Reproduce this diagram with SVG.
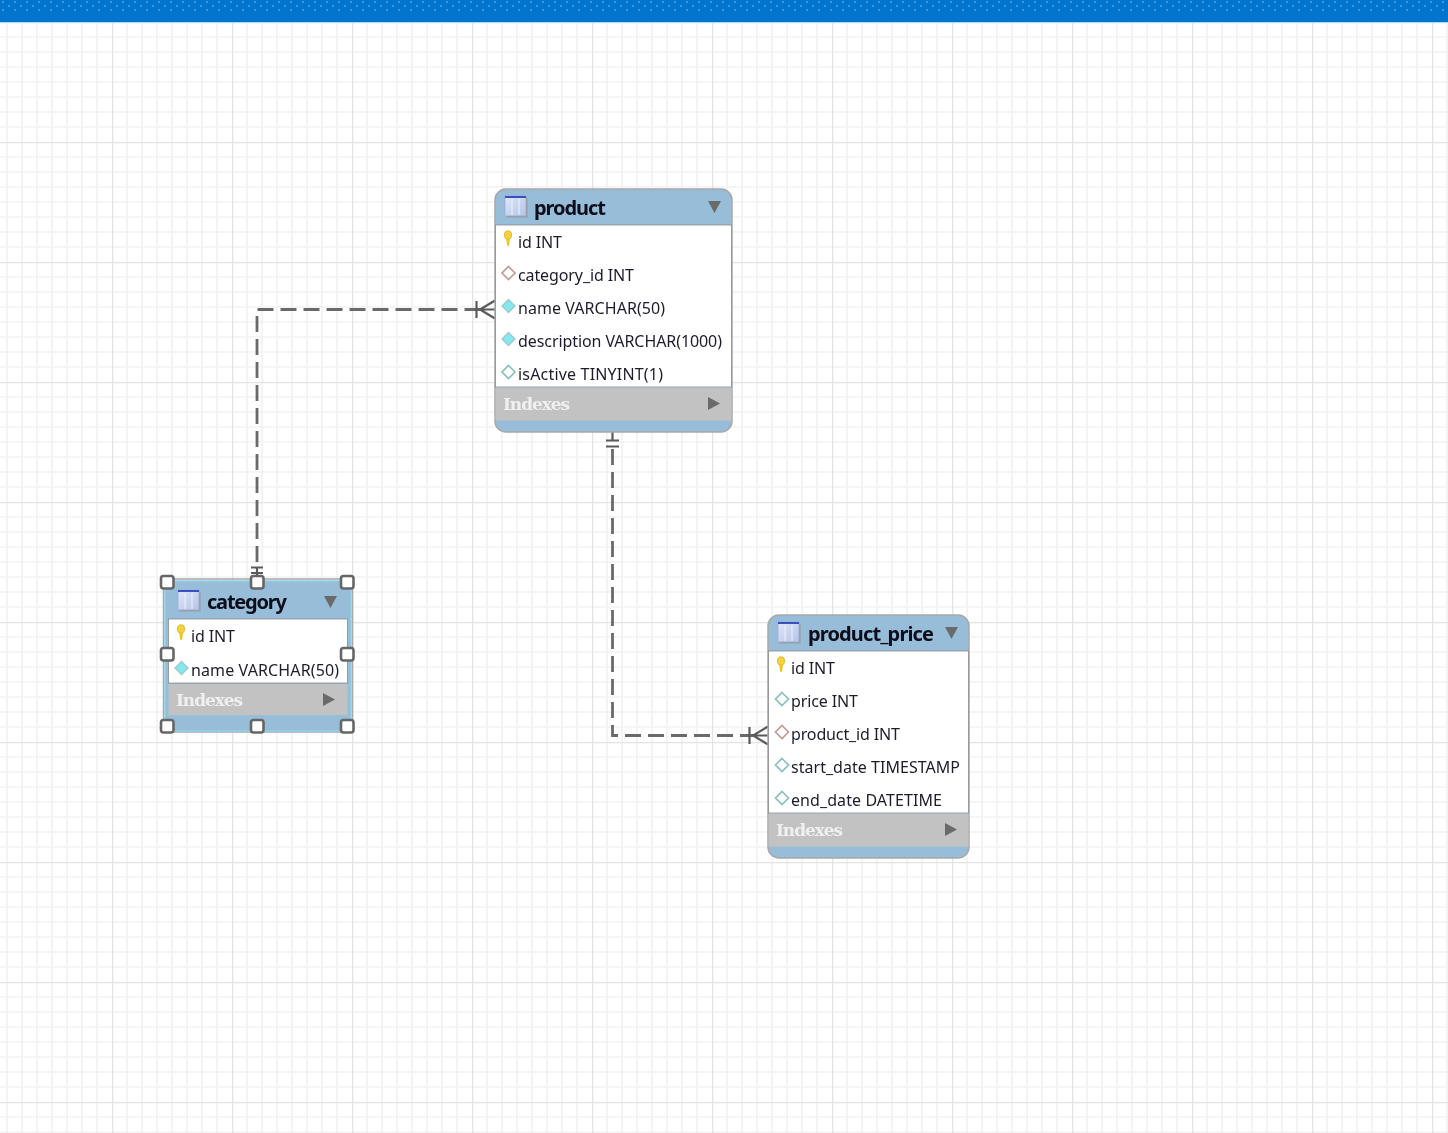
<svg xmlns="http://www.w3.org/2000/svg" width="1448" height="1133" viewBox="0 0 1448 1133">
<style>
text{font-family:"Noto Sans","DejaVu Sans",sans-serif;fill:#1c1c2c}
.t{font-size:20px;font-weight:700;fill:#10101c}
.r{font-size:16px}
.i{font-size:17px;font-weight:700;fill:#f0f0f0;font-family:"DejaVu Serif","Liberation Serif",serif}
.out{fill:#97bdd8;stroke:#a8a8a8;stroke-width:1.5}
.rows{fill:#fff;stroke:#8a8a8a;stroke-width:.8}
.ix{fill:#c2c2c2}
.tri{fill:#6b6b6b}
.c{fill:none;stroke:#6a6a6a;stroke-width:2.8;stroke-dasharray:16 7}
.m{fill:none;stroke:#5a5a5a;stroke-width:2.2}
.h{fill:#fff;stroke:#666;stroke-width:2.6}
</style>
<defs>
<pattern id="grid" width="120" height="120" patternUnits="userSpaceOnUse" x="112" y="22">
<path d="M15 0V120M30 0V120M45 0V120M60 0V120M75 0V120M90 0V120M105 0V120M0 15H120M0 30H120M0 45H120M0 60H120M0 75H120M0 90H120M0 105H120" stroke="#f2f2f2" stroke-width="1.6" fill="none"/>
<path d="M.5 0V120M0 .5H120" stroke="#e3e3e3" stroke-width="1.6" fill="none"/>
</pattern>
<pattern id="dots" width="12" height="8" patternUnits="userSpaceOnUse">
<rect x="2" y="1" width="2" height="2" fill="#3f97dc"/><rect x="8" y="5" width="2" height="2" fill="#3f97dc"/>
</pattern>
<filter id="soft" x="-5%" y="-5%" width="110%" height="110%"><feGaussianBlur stdDeviation="0.45"/></filter>
<linearGradient id="ig" x1="0" y1="0" x2="1" y2="1"><stop offset="0" stop-color="#dfe6f8"/><stop offset="1" stop-color="#b4c4e8"/></linearGradient>
<g id="tbl"><rect x="1.500" y="1.500" width="21" height="20" fill="#9a9a9a"/><rect x="0" y="0" width="21" height="20" fill="url(#ig)" stroke="#9aaad0" stroke-width=".8"/><rect x="0" y="0" width="21" height="2" fill="#3a4fc0"/><path d="M7 3V19M14 3V19" stroke="#eef2fb" stroke-width="1"/></g>
<g id="key"><ellipse cx="0" cy="-3" rx="3.600" ry="4.200" fill="#f5d33a" stroke="#d8a520" stroke-width=".7"/><path d="M-2 0H2L1.200 7L-.6 8.500Z" fill="#f0c51f"/></g>
<path id="dt" d="M0-6.500L6.500 0L0 6.500L-6.500 0Z" fill="#84e8ee" stroke="#9fc8cc" stroke-width="1.300"/>
<path id="de" d="M0-6.500L6.500 0L0 6.500L-6.500 0Z" fill="#fff" stroke="#88c0c0" stroke-width="1.700"/>
<path id="df" d="M0-6.500L6.500 0L0 6.500L-6.500 0Z" fill="#fff" stroke="#c49a94" stroke-width="1.700"/>
</defs>
<rect width="1448" height="1133" fill="#fff"/>
<rect width="1448" height="1133" fill="url(#grid)"/>
<rect width="1448" height="22" fill="#0275cf"/>
<rect width="1448" height="11" fill="url(#dots)"/>
<rect y="22" width="1448" height="1" fill="#a8dcf0"/>

<g id="connectors" filter="url(#soft)">
<path class="c" d="M257 562V309.500H480"/>
<path class="c" d="M612.500 449V735.500H753"/>
<path class="m" d="M495 300.500L480 309.500L495 318.500M476.500 301V318M480 309.500H495"/>
<path class="m" d="M251 567.500H263M257 567.500V576M251 573H263"/>
<path class="m" d="M768 726.500L753 735.500L768 744.500M749.500 727V744M753 735.500H768"/>
<path class="m" d="M612.500 432V441M606 440.500H619M606 446.500H619"/>
</g>

<g id="product" filter="url(#soft)">
<rect class="out" x="495" y="189" width="237" height="243" rx="11"/>
<rect class="rows" x="495.500" y="225" width="236" height="162"/>
<rect class="ix" x="495.500" y="387.500" width="236" height="33"/>
<use href="#tbl" x="505" y="196"/>
<text class="t" x="534" y="215" textLength="72">product</text>
<path class="tri" d="M708 201H721L714.500 213Z"/>
<use href="#key" x="508" y="238"/><text class="r" x="518" y="248" textLength="44">id INT</text>
<use href="#df" x="508.500" y="273"/><text class="r" x="518" y="281" textLength="116">category_id INT</text>
<use href="#dt" x="508.500" y="306"/><text class="r" x="518" y="314" textLength="147">name VARCHAR(50)</text>
<use href="#dt" x="508.500" y="339"/><text class="r" x="518" y="347" textLength="204">description VARCHAR(1000)</text>
<use href="#de" x="508.500" y="372"/><text class="r" x="518" y="380" textLength="145">isActive TINYINT(1)</text>
<text class="i" x="503" y="410" textLength="67">Indexes</text>
<path class="tri" d="M708 397L720 403.500L708 410Z"/>
</g>

<g id="category" filter="url(#soft)">
<rect x="163.500" y="579" width="189" height="153" fill="none" stroke="#a8a8a8" stroke-width="1.500"/>
<rect class="out" x="165" y="581" width="186" height="150" style="stroke:#8fd0e4"/>
<rect class="rows" x="168.500" y="619" width="179" height="64"/>
<rect class="ix" x="168.500" y="684" width="179" height="31"/>
<use href="#tbl" x="178" y="590"/>
<text class="t" x="207" y="609" textLength="80">category</text>
<path class="tri" d="M324 596H337L330.500 608Z"/>
<use href="#key" x="181" y="632"/><text class="r" x="191" y="642" textLength="44">id INT</text>
<use href="#dt" x="181.500" y="668"/><text class="r" x="191" y="676" textLength="148">name VARCHAR(50)</text>
<text class="i" x="176" y="706" textLength="67">Indexes</text>
<path class="tri" d="M323 693L335 699.500L323 706Z"/>
<rect class="h" x="161" y="576" width="12.500" height="12.500" rx="2.500"/>
<rect class="h" x="251" y="576" width="12.500" height="12.500" rx="2.500"/>
<rect class="h" x="341" y="576" width="12.500" height="12.500" rx="2.500"/>
<rect class="h" x="161" y="648" width="12.500" height="12.500" rx="2.500"/>
<rect class="h" x="341" y="648" width="12.500" height="12.500" rx="2.500"/>
<rect class="h" x="161" y="720" width="12.500" height="12.500" rx="2.500"/>
<rect class="h" x="251" y="720" width="12.500" height="12.500" rx="2.500"/>
<rect class="h" x="341" y="720" width="12.500" height="12.500" rx="2.500"/>
</g>

<g id="product_price" filter="url(#soft)">
<rect class="out" x="768" y="615" width="201" height="243" rx="11"/>
<rect class="rows" x="768.500" y="651" width="200" height="162"/>
<rect class="ix" x="768.500" y="813.500" width="200" height="33"/>
<use href="#tbl" x="778" y="622"/>
<text class="t" x="808" y="641" textLength="126">product_price</text>
<path class="tri" d="M945 627H958L951.500 639Z"/>
<use href="#key" x="781" y="664"/><text class="r" x="791" y="674" textLength="44">id INT</text>
<use href="#de" x="782" y="699"/><text class="r" x="791" y="707" textLength="67">price INT</text>
<use href="#df" x="782" y="732"/><text class="r" x="791" y="740" textLength="109">product_id INT</text>
<use href="#de" x="782" y="765"/><text class="r" x="791" y="773" textLength="169">start_date TIMESTAMP</text>
<use href="#de" x="782" y="798"/><text class="r" x="791" y="806" textLength="151">end_date DATETIME</text>
<text class="i" x="776" y="836" textLength="67">Indexes</text>
<path class="tri" d="M945 823L957 829.500L945 836Z"/>
</g>
</svg>
